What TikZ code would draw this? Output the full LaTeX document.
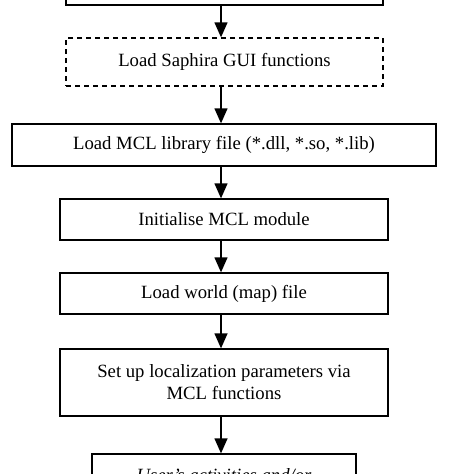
\documentclass[tikz,border=0pt]{standalone}
\usepackage{fontspec}
\setmainfont{Liberation Serif}
\usetikzlibrary{arrows.meta}
\begin{document}
\begin{tikzpicture}[x=1pt,y=-1pt,
  box/.style={draw, line width=1.3pt, inner sep=0pt, align=center,
    font=\fontsize{18.7}{22}\selectfont},
  dbox/.style={box, dash pattern=on 5pt off 4pt},
  flow/.style={line width=1.3pt, -{Triangle[width=13pt,length=15pt]}}]
\useasboundingbox (0,0) rectangle (474,474);
\clip (0,0) rectangle (474,474);
\fill[white] (0,0) rectangle (474,474);
\coordinate (ax) at (221,0);
\node[box, minimum width=317pt, minimum height=50pt] (top) at (224.5,-20) {};
\node[dbox, minimum width=317pt, minimum height=48pt] (gui) at (224.5,62) {Load Saphira GUI functions};
\node[box, minimum width=424pt, minimum height=42pt] (lib) at (224,145) {Load MCL library file (*.dll, *.so, *.lib)};
\node[box, minimum width=328pt, minimum height=41pt] (init) at (224,219.5) {Initialise MCL module};
\node[box, minimum width=328pt, minimum height=41pt] (world) at (224,293.5) {Load world (map) file};
\node[box, minimum width=328pt, minimum height=67pt] (setup) at (224,382.5) {Set up localization parameters via\\MCL functions};
\node[box, minimum width=264pt, minimum height=42pt] (user) at (224,475) {\itshape User's activities and/or};
\draw[flow] (top.south -| ax) -- (gui.north -| ax);
\draw[flow] (gui.south -| ax) -- (lib.north -| ax);
\draw[flow] (lib.south -| ax) -- (init.north -| ax);
\draw[flow] (init.south -| ax) -- (world.north -| ax);
\draw[flow] (world.south -| ax) -- (setup.north -| ax);
\draw[flow] (setup.south -| ax) -- (user.north -| ax);
\end{tikzpicture}
\end{document}
